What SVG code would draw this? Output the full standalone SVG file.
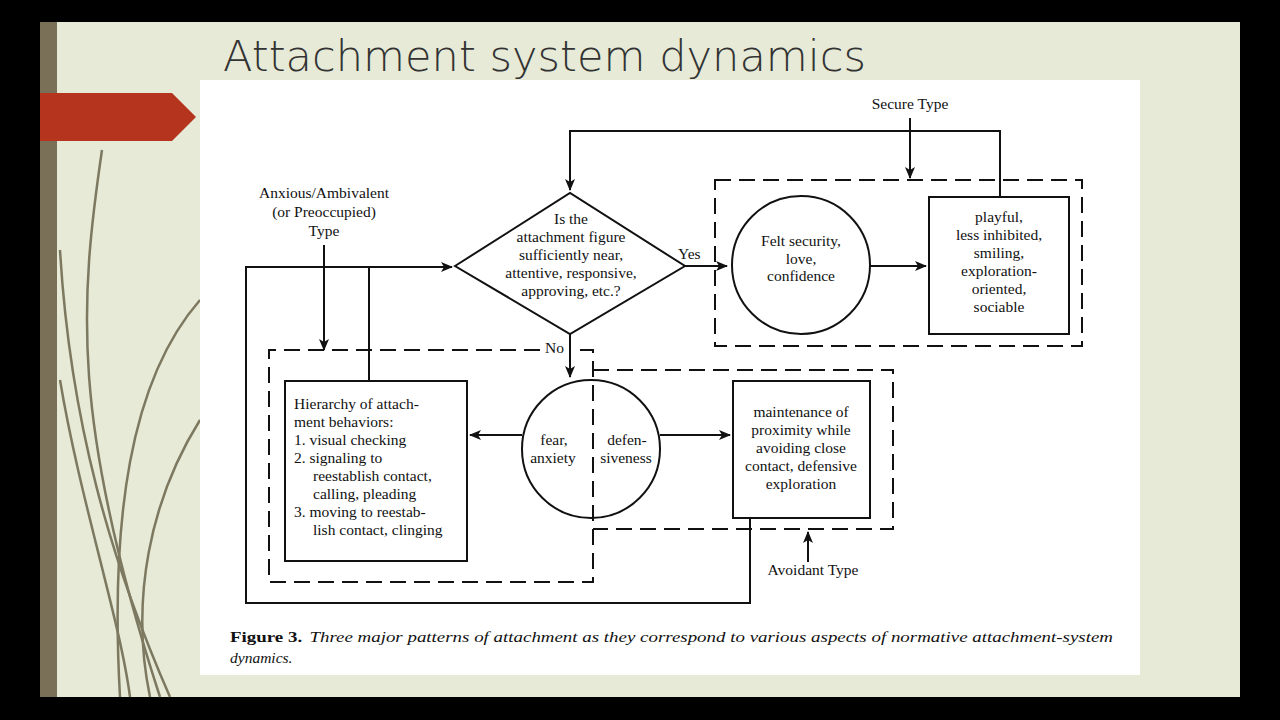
<svg xmlns="http://www.w3.org/2000/svg" width="1280" height="720" viewBox="0 0 1280 720">
<defs>
<marker id="ah" viewBox="0 0 12 10" refX="11" refY="5" markerWidth="12" markerHeight="10" markerUnits="userSpaceOnUse" orient="auto"><path d="M0,0 L12,5 L0,10 L3,5 Z" fill="#111"/></marker>
<style>
.s{fill:none;stroke:#111;stroke-width:2}
.d{fill:none;stroke:#111;stroke-width:2;stroke-dasharray:16,8}
.t{font-family:"Liberation Serif",serif;font-size:15.5px;fill:#111}
.c{text-anchor:middle}
.g{fill:none;stroke:#7d7860;stroke-width:2.5}
</style>
</defs>
<rect width="1280" height="720" fill="#000"/>
<rect x="40" y="22" width="1200" height="675" fill="#e6ead6"/>
<rect x="40" y="22" width="17" height="675" fill="#7a7058"/>
<g id="grass">
<path class="g" d="M102,150 C80,300 70,420 160,697"/>
<path class="g" d="M60,250 C70,420 110,560 170,697"/>
<path class="g" d="M200,420 C150,500 130,600 150,697" />
<path class="g" d="M60,380 C80,500 120,620 130,697" stroke="#b8b6a0"/>
<path class="g" d="M200,300 C130,380 110,520 120,697" stroke="#c9c8b3"/>
</g>
<path d="M40,93 H172 L196,117 L172,141 H40 Z" fill="#b5341e"/>
<text x="223" y="71" font-family="DejaVu Sans, sans-serif" font-weight="200" font-size="42" fill="#333" textLength="643" lengthAdjust="spacingAndGlyphs">Attachment system dynamics</text>
<rect x="200" y="80" width="940" height="595" fill="#fff"/>
<g id="connectors">
<polyline class="s" points="1000,197 1000,131 570,131 570,190" marker-end="url(#ah)"/>
<line class="s" x1="910" y1="118" x2="910" y2="178" marker-end="url(#ah)"/>
<line class="s" x1="685" y1="266" x2="727" y2="266" marker-end="url(#ah)"/>
<line class="s" x1="870" y1="266" x2="926" y2="266" marker-end="url(#ah)"/>
<line class="s" x1="324" y1="245" x2="324" y2="350" marker-end="url(#ah)"/>
<polyline class="s" points="750,518 750,603 246,603 246,267 452,267" marker-end="url(#ah)"/>
<line class="s" x1="369" y1="267" x2="369" y2="381"/>
<line class="s" x1="570" y1="334" x2="570" y2="377" marker-end="url(#ah)"/>
<line class="s" x1="522" y1="435" x2="470" y2="435" marker-end="url(#ah)"/>
<line class="s" x1="660" y1="435" x2="730" y2="435" marker-end="url(#ah)"/>
<line class="s" x1="808" y1="562" x2="808" y2="532" marker-end="url(#ah)"/>
</g>
<g id="secure-group"><rect class="d" x="715" y="180" width="367" height="166"/></g>
<g id="anxious-group"><polyline class="d" points="540,350 269,350 269,582 593,582 593,350 572,350"/></g>
<g id="avoidant-group"><polyline class="d" points="593,370 893,370 893,529 593,529"/></g>
<g id="decision">
<polygon class="s" points="455,266 570,193 685,266 570,334" stroke-width="2.5"/>
<text class="t c" x="571" y="224">Is the</text>
<text class="t c" x="571" y="242">attachment figure</text>
<text class="t c" x="571" y="260">sufficiently near,</text>
<text class="t c" x="571" y="278">attentive, responsive,</text>
<text class="t c" x="571" y="296">approving, etc.?</text>
</g>
<text class="t" x="678" y="259">Yes</text>
<text class="t" x="545" y="353">No</text>
<g id="felt"><circle class="s" cx="801" cy="265" r="69"/>
<text class="t c" x="801" y="246">Felt security,</text><text class="t c" x="801" y="264">love,</text><text class="t c" x="801" y="281">confidence</text></g>
<g id="playful"><rect class="s" x="929" y="197" width="140" height="137"/>
<text class="t c" x="999" y="222">playful,</text><text class="t c" x="999" y="240">less inhibited,</text><text class="t c" x="999" y="258">smiling,</text><text class="t c" x="999" y="276">exploration-</text><text class="t c" x="999" y="294">oriented,</text><text class="t c" x="999" y="312">sociable</text></g>
<g id="hierarchy"><rect class="s" x="285" y="381" width="182" height="180"/>
<text class="t" x="294" y="409">Hierarchy of attach-</text><text class="t" x="294" y="427">ment behaviors:</text><text class="t" x="294" y="445">1. visual checking</text><text class="t" x="294" y="463">2. signaling to</text><text class="t" x="313" y="481">reestablish contact,</text><text class="t" x="313" y="499">calling, pleading</text><text class="t" x="294" y="517">3. moving to reestab-</text><text class="t" x="313" y="535">lish contact, clinging</text></g>
<g id="fear"><circle class="s" cx="591" cy="449" r="69"/>
<text class="t c" x="554" y="445">fear,</text><text class="t c" x="553" y="463">anxiety</text><text class="t c" x="627" y="445">defen-</text><text class="t c" x="626" y="463">siveness</text></g>
<g id="maintenance"><rect class="s" x="733" y="381" width="137" height="137"/>
<text class="t c" x="801" y="417">maintenance of</text><text class="t c" x="801" y="435">proximity while</text><text class="t c" x="801" y="453">avoiding close</text><text class="t c" x="801" y="471">contact, defensive</text><text class="t c" x="801" y="489">exploration</text></g>
<g id="types">
<text class="t c" x="910" y="109">Secure Type</text>
<text class="t c" x="324" y="198">Anxious/Ambivalent</text><text class="t c" x="324" y="217">(or Preoccupied)</text><text class="t c" x="324" y="236">Type</text>
<text class="t c" x="813" y="575">Avoidant Type</text>
</g>
<text class="t" x="230" y="642" font-size="17" textLength="883" lengthAdjust="spacingAndGlyphs"><tspan font-weight="bold">Figure 3.</tspan><tspan font-style="italic" dx="6">Three major patterns of attachment as they correspond to various aspects of normative attachment-system</tspan></text>
<text class="t" x="230" y="663" font-size="17" font-style="italic">dynamics.</text>
</svg>
